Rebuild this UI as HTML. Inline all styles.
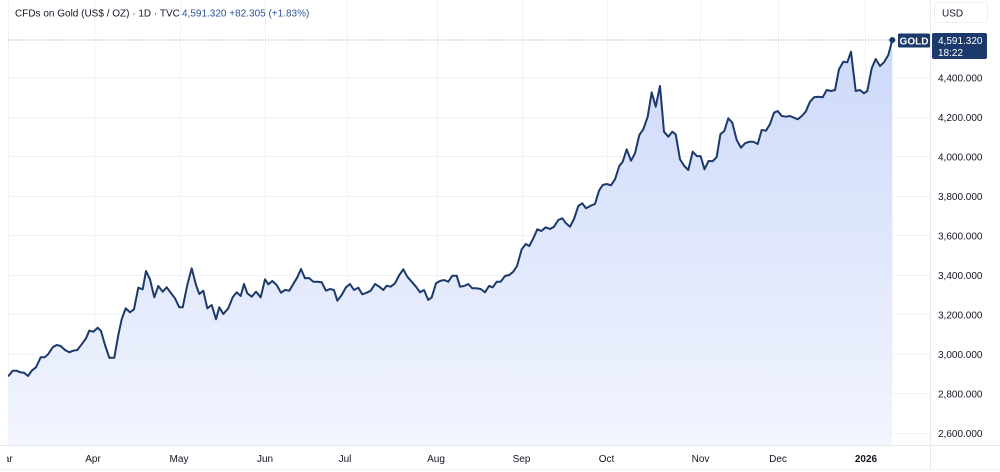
<!DOCTYPE html>
<html>
<head>
<meta charset="utf-8">
<style>
  html,body{margin:0;padding:0;background:#fff;}
  body{width:1000px;height:472px;overflow:hidden;position:relative;font-family:"Liberation Sans",sans-serif;}
  svg{position:absolute;left:0;top:0;}
</style>
</head>
<body>
<svg width="1000" height="472" viewBox="0 0 1000 472" xmlns="http://www.w3.org/2000/svg">
  <defs>
    <linearGradient id="fg" gradientUnits="userSpaceOnUse" x1="0" y1="40" x2="0" y2="445">
      <stop offset="0" stop-color="#cdd9f9"/>
      <stop offset="1" stop-color="#f2f5fe"/>
    </linearGradient>
    <clipPath id="plot"><rect x="8" y="0" width="922" height="445"/></clipPath>
    <clipPath id="taxis"><rect x="7" y="446" width="923" height="24"/></clipPath>
  </defs>

  <!-- grid -->
  <g stroke="#f0f3fa" stroke-width="1">
    <line x1="8.5" y1="0" x2="8.5" y2="445"/>
    <line x1="94.5" y1="0" x2="94.5" y2="445"/>
    <line x1="180.5" y1="0" x2="180.5" y2="445"/>
    <line x1="265.5" y1="0" x2="265.5" y2="445"/>
    <line x1="347.5" y1="0" x2="347.5" y2="445"/>
    <line x1="437.5" y1="0" x2="437.5" y2="445"/>
    <line x1="522.5" y1="0" x2="522.5" y2="445"/>
    <line x1="607.5" y1="0" x2="607.5" y2="445"/>
    <line x1="700.5" y1="0" x2="700.5" y2="445"/>
    <line x1="778.5" y1="0" x2="778.5" y2="445"/>
    <line x1="865.5" y1="0" x2="865.5" y2="445"/>
    <line x1="8" y1="77.5" x2="930" y2="77.5"/>
    <line x1="8" y1="117.5" x2="930" y2="117.5"/>
    <line x1="8" y1="156.5" x2="930" y2="156.5"/>
    <line x1="8" y1="196.5" x2="930" y2="196.5"/>
    <line x1="8" y1="235.5" x2="930" y2="235.5"/>
    <line x1="8" y1="275.5" x2="930" y2="275.5"/>
    <line x1="8" y1="314.5" x2="930" y2="314.5"/>
    <line x1="8" y1="354.5" x2="930" y2="354.5"/>
    <line x1="8" y1="393.5" x2="930" y2="393.5"/>
    <line x1="8" y1="433.5" x2="930" y2="433.5"/>
  </g>

  <g clip-path="url(#plot)">
  <polygon fill="url(#fg)" points="8,376 9.3,375 12.7,370.7 16.7,370.7 20,372.3 24,372.7 28,376 31.7,370.7 36,367.3 40.7,357.3 44.7,357.3 48.3,354 52.7,347.3 56.7,345 60.7,346 65,350 69.3,352.3 73.3,350.7 77.3,350 81.7,344.3 86,338.3 89.3,330.7 93.3,331.7 97.7,327.7 101,331 105,345 109.3,357.7 114.3,357.7 118.3,335 121.7,319.3 125.7,308.3 130,312.3 134,309.3 138.3,287.7 142.7,289.3 146,271 150,279.3 154.3,297.3 158.3,286 162.7,291.7 166.7,287.3 170.7,292.7 175,298.3 179.3,307.3 182.7,307.3 187.3,285 191.7,268.3 196,285 199.3,294 203.3,290.7 207.3,308.3 211.7,305 216,319.3 219.3,307.3 223.3,314 228.3,308.3 232.7,297.3 236.7,292.3 240.7,296 244,284 247.3,293.3 251.7,296.7 256,291.7 260.7,297.3 265,279.3 268.3,284.3 272.3,281 276.7,285 281,292.7 285,290 289.3,290.7 293.3,284 297.3,277.3 301,269 305,278.3 309,278 313.3,281.7 317.3,281.7 321.7,282.3 326,290.7 330,289 334,290 337.3,300.7 341.7,295 346,287.3 350,284 354,290 358.3,287.7 362.3,294.3 366.7,292.7 370.7,290.7 375,284 379.3,286.7 383.3,290 386.7,285.7 390.7,286.7 395,283.3 399.3,275 403.3,269.3 407.3,276.7 411.7,281.7 416,286.7 420,292.3 424,290 428.3,300 431.7,297.3 436,283.3 440,281 444,280 448.3,281.7 452.3,275.7 456.7,275.7 460,286.7 464,286 468.3,284 472.3,288.3 476.7,288.3 480.7,289 485,292.3 489,286 492.7,287.3 496.7,281.7 500.7,281.7 505,276 509.3,275 513.3,271.7 517,266 521.7,249.3 525.7,244 529.3,246 533.3,238.3 537.3,229.3 541.3,231 545.7,227.3 550,229 554,226.7 558.3,220 562.3,218.3 566,223.3 570,226.7 574,219 578.3,206 582.3,203.3 586,208.3 590.7,205.7 595,204 599,190.7 602.7,185 606.7,184 611,185.3 615,179.3 619.3,166 622.7,161.7 626.7,149.3 631,160.7 635,153.3 639.3,135 643.3,129.3 647.7,116.7 651.7,92.3 655.7,106.7 660,86 664,131.7 668.3,136.7 672.3,131.7 675.7,134.3 680,159.3 684.3,166 688.3,170 692.7,151.7 696.7,156 700.7,156.3 704.5,169.3 708.5,161 712.7,161.2 716.7,157 720.4,134.2 724.3,131 728.3,118.3 732.3,122.7 736.7,140 741,147.7 745,143.3 749.3,141.7 753.3,141.7 757.7,144 761.7,130 766,130.7 770,124 774,112.7 777.7,111 781.7,116 786,116.7 790,116 794,117.7 797.7,119.3 801.7,116 805.7,111.7 810,101.7 814,97.3 818.3,96.7 822.7,97.3 826.7,90 831,91 835,90 839,69.3 843.3,61.7 847.3,62.3 851,51.7 855.7,91 860,90 864,93.3 867.3,91 871.7,68.3 875.7,59 880,66 884,62.3 888.3,55 892.3,40 892.3,445 8,445"/>

  <!-- dotted last price line -->
  <line x1="8" y1="40" x2="930" y2="40" stroke="#9aa3b5" stroke-width="1" stroke-dasharray="1,1.5"/>

  <polyline fill="none" stroke="#1b3a6b" stroke-width="2" stroke-linejoin="round" stroke-linecap="round" points="8,376 9.3,375 12.7,370.7 16.7,370.7 20,372.3 24,372.7 28,376 31.7,370.7 36,367.3 40.7,357.3 44.7,357.3 48.3,354 52.7,347.3 56.7,345 60.7,346 65,350 69.3,352.3 73.3,350.7 77.3,350 81.7,344.3 86,338.3 89.3,330.7 93.3,331.7 97.7,327.7 101,331 105,345 109.3,357.7 114.3,357.7 118.3,335 121.7,319.3 125.7,308.3 130,312.3 134,309.3 138.3,287.7 142.7,289.3 146,271 150,279.3 154.3,297.3 158.3,286 162.7,291.7 166.7,287.3 170.7,292.7 175,298.3 179.3,307.3 182.7,307.3 187.3,285 191.7,268.3 196,285 199.3,294 203.3,290.7 207.3,308.3 211.7,305 216,319.3 219.3,307.3 223.3,314 228.3,308.3 232.7,297.3 236.7,292.3 240.7,296 244,284 247.3,293.3 251.7,296.7 256,291.7 260.7,297.3 265,279.3 268.3,284.3 272.3,281 276.7,285 281,292.7 285,290 289.3,290.7 293.3,284 297.3,277.3 301,269 305,278.3 309,278 313.3,281.7 317.3,281.7 321.7,282.3 326,290.7 330,289 334,290 337.3,300.7 341.7,295 346,287.3 350,284 354,290 358.3,287.7 362.3,294.3 366.7,292.7 370.7,290.7 375,284 379.3,286.7 383.3,290 386.7,285.7 390.7,286.7 395,283.3 399.3,275 403.3,269.3 407.3,276.7 411.7,281.7 416,286.7 420,292.3 424,290 428.3,300 431.7,297.3 436,283.3 440,281 444,280 448.3,281.7 452.3,275.7 456.7,275.7 460,286.7 464,286 468.3,284 472.3,288.3 476.7,288.3 480.7,289 485,292.3 489,286 492.7,287.3 496.7,281.7 500.7,281.7 505,276 509.3,275 513.3,271.7 517,266 521.7,249.3 525.7,244 529.3,246 533.3,238.3 537.3,229.3 541.3,231 545.7,227.3 550,229 554,226.7 558.3,220 562.3,218.3 566,223.3 570,226.7 574,219 578.3,206 582.3,203.3 586,208.3 590.7,205.7 595,204 599,190.7 602.7,185 606.7,184 611,185.3 615,179.3 619.3,166 622.7,161.7 626.7,149.3 631,160.7 635,153.3 639.3,135 643.3,129.3 647.7,116.7 651.7,92.3 655.7,106.7 660,86 664,131.7 668.3,136.7 672.3,131.7 675.7,134.3 680,159.3 684.3,166 688.3,170 692.7,151.7 696.7,156 700.7,156.3 704.5,169.3 708.5,161 712.7,161.2 716.7,157 720.4,134.2 724.3,131 728.3,118.3 732.3,122.7 736.7,140 741,147.7 745,143.3 749.3,141.7 753.3,141.7 757.7,144 761.7,130 766,130.7 770,124 774,112.7 777.7,111 781.7,116 786,116.7 790,116 794,117.7 797.7,119.3 801.7,116 805.7,111.7 810,101.7 814,97.3 818.3,96.7 822.7,97.3 826.7,90 831,91 835,90 839,69.3 843.3,61.7 847.3,62.3 851,51.7 855.7,91 860,90 864,93.3 867.3,91 871.7,68.3 875.7,59 880,66 884,62.3 888.3,55 892.3,40"/>
  <circle cx="892.3" cy="40" r="3" fill="#1b3a6b"/>
  </g>

  <!-- axes borders -->
  <line x1="0" y1="445.5" x2="1000" y2="445.5" stroke="#e6e9f0" stroke-width="1"/>
  <line x1="0" y1="469.5" x2="1000" y2="469.5" stroke="#eef0f4" stroke-width="1"/>
  <line x1="930.5" y1="0" x2="930.5" y2="470" stroke="#e6e9f0" stroke-width="1"/>

  <!-- header -->
  <text x="15" y="16.5" font-size="10" fill="#131722">CFDs on Gold (US$ / OZ) · 1D · TVC</text>
  <text x="182" y="16.5" font-size="10" fill="#2b5597">4,591.320  +82.305 (+1.83%)</text>

  <!-- USD box -->
  <rect x="934.5" y="2.5" width="53" height="20" rx="3" fill="#fff" stroke="#eceef2"/>
  <text x="942" y="16.5" font-size="10" fill="#131722">USD</text>

  <!-- GOLD label -->
  <rect x="898" y="33.5" width="32" height="14" rx="1.5" fill="#1b3a6b"/>
  <text x="914" y="44.5" font-size="10" fill="#fff" text-anchor="middle" font-weight="bold">GOLD</text>

  <!-- price box -->
  <rect x="932" y="33" width="55" height="26" rx="2" fill="#1b3a6b"/>
  <text x="938" y="44" font-size="10" fill="#fff">4,591.320</text>
  <text x="938" y="56" font-size="10" fill="#fff">18:22</text>

  <!-- right axis labels -->
  <g font-size="10" fill="#131722">
    <text x="938" y="81.5">4,400.000</text>
    <text x="938" y="121">4,200.000</text>
    <text x="938" y="160.5">4,000.000</text>
    <text x="938" y="200">3,800.000</text>
    <text x="938" y="239.5">3,600.000</text>
    <text x="938" y="279">3,400.000</text>
    <text x="938" y="318.5">3,200.000</text>
    <text x="938" y="358">3,000.000</text>
    <text x="938" y="397.5">2,800.000</text>
    <text x="938" y="437">2,600.000</text>
  </g>

  <!-- time axis labels -->
  <g font-size="10" fill="#131722" text-anchor="middle">
    <g clip-path="url(#taxis)"><text x="4" y="462">Mar</text></g>
    <text x="93" y="462">Apr</text>
    <text x="179" y="462">May</text>
    <text x="265" y="462">Jun</text>
    <text x="345" y="462">Jul</text>
    <text x="436" y="462">Aug</text>
    <text x="521.5" y="462">Sep</text>
    <text x="606.5" y="462">Oct</text>
    <text x="700.5" y="462">Nov</text>
    <text x="778" y="462">Dec</text>
    <text x="866" y="462" font-weight="bold">2026</text>
  </g>
</svg>
</body>
</html>
